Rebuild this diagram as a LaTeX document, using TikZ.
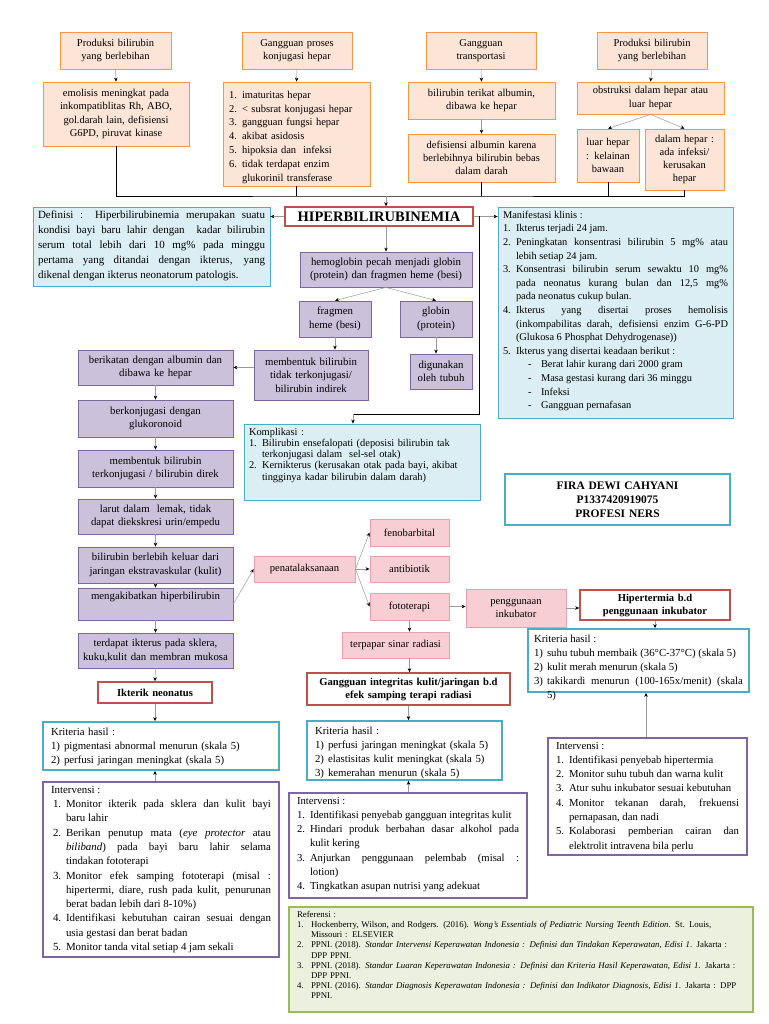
\documentclass[tikz,border=0pt]{standalone}
\usepackage{fontspec}
\setmainfont{Liberation Serif}
\usepackage{enumitem}
\usetikzlibrary{arrows.meta}
\definecolor{orF}{HTML}{FCE4D6}
\definecolor{orD}{HTML}{F79646}
\definecolor{blF}{HTML}{DBEEF4}
\definecolor{blD}{HTML}{4BACC6}
\definecolor{puF}{HTML}{CCC1DA}
\definecolor{puD}{HTML}{8064A2}
\definecolor{piF}{HTML}{F6CED3}
\definecolor{piD}{HTML}{E6A1AC}
\definecolor{rdD}{HTML}{C0504D}
\definecolor{grF}{HTML}{EBF1DE}
\definecolor{grD}{HTML}{9BBB59}
\setlist[enumerate]{nosep,leftmargin=13pt,labelwidth=9pt,labelsep=4pt,align=left,label=\arabic*.}
\setlist[itemize]{nosep,leftmargin=25pt,labelwidth=8pt,labelsep=5pt,align=left,label=-}
\newcommand\bxpad{4}
\newcommand\bx[7]{%
  \pgfmathsetmacro\bxw{#5-#3}%
  \pgfmathsetmacro\bxh{#6-#4}%
  \pgfmathsetmacro\bxcx{(#3+#5)/2}%
  \pgfmathsetmacro\bxcy{(#4+#6)/2}%
  \pgfmathsetmacro\bxtw{#5-#3-2*\bxpad}%
  \node[inner ysep=2pt, #2, minimum width=\bxw pt, minimum height=\bxh pt, text width=\bxtw pt] (#1) at (\bxcx,\bxcy) {#7};}
\newcommand\bxt[7]{%
  \bx{#1}{#2}{#3}{#4}{#5}{#6}{}%
  \pgfmathsetmacro\bxtw{#5-#3-2*\bxpad}%
  \node[anchor=north west, inner ysep=4pt, #2, draw=none, fill=none, text width=\bxtw pt] at (#1.north west) {#7};}
\tikzset{
  base/.style={rectangle, inner xsep=\bxpad pt, align=center, font=\fontsize{10.8}{13.5}\selectfont},
  orbox/.style={base, fill=orF, draw=orD, line width=0.8pt, font=\fontsize{10.5}{13.3}\selectfont},
  blbox/.style={base, fill=blF, draw=blD, line width=0.8pt},
  pubox/.style={base, fill=puF, draw=puD, line width=0.8pt},
  pibox/.style={base, fill=piF, draw=piD, line width=0.8pt, font=\fontsize{10.6}{13}\selectfont},
  redbold/.style={base, fill=white, draw=rdD, line width=1.6pt, font=\bfseries\fontsize{10.6}{13}\selectfont},
  kbox/.style={base, inner ysep=6pt, fill=white, draw=blD, line width=1.8pt, align=left, font=\fontsize{10.8}{14}\selectfont},
  ibox/.style={base, fill=white, draw=puD, line width=1.8pt, align=justify, font=\fontsize{10.9}{14.3}\selectfont},
  firabox/.style={base, fill=white, draw=blD, line width=2.6pt, font=\bfseries\fontsize{11.5}{14}\selectfont},
  refbox/.style={base, fill=grF, draw=grD, line width=1.8pt, align=left, font=\fontsize{8.8}{10.2}\selectfont},
  arr/.style={draw=black!40, line width=0.5pt, -{Stealth[length=4pt,width=3.5pt,color=black]}},
  conn/.style={draw=black, line width=0.8pt}
}
\begin{document}
\begin{tikzpicture}[x=1pt,y=-1pt]
\useasboundingbox (0,0) rectangle (768,1024);
\fill[white] (0,0) rectangle (768,1024);

% ---------- top row ----------
\bx{a1}{orbox}{60}{32}{171}{69}{Produksi bilirubin\\yang berlebihan}
\bx{a2}{orbox}{43}{82}{189}{146}{emolisis meningkat pada\\inkompatiblitas Rh, ABO,\\gol.darah lain, defisiensi\\G6PD, piruvat kinase}
\bx{b1}{orbox}{242}{32}{352}{69}{Gangguan proses\\konjugasi hepar}
\renewcommand\bxpad{6}
\bx{b2}{orbox, align=left, font=\fontsize{10.5}{13.8}\selectfont}{223}{82}{370}{186}{%
\begin{enumerate}
\item imaturitas hepar
\item < subsrat konjugasi hepar
\item gangguan fungsi hepar
\item akibat asidosis
\item hipoksia dan\ \ infeksi
\item tidak terdapat enzim\newline glukorinil transferase
\end{enumerate}}
\renewcommand\bxpad{4}
\bx{c1}{orbox}{426}{32}{536}{69}{Gangguan\\transportasi}
\bx{c2}{orbox}{408}{82}{555}{119}{bilirubin terikat albumin,\\dibawa ke hepar}
\bx{c3}{orbox}{408}{134}{555}{182}{defisiensi albumin karena\\berlebihnya bilirubin bebas\\dalam darah}
\bx{d1}{orbox}{597}{32}{707}{69}{Produksi bilirubin\\yang berlebihan}
\bx{d2}{orbox}{577}{82}{724}{114}{obstruksi dalam hepar atau\\luar hepar}
\renewcommand\bxpad{2}
\bx{d3}{orbox}{577}{129}{639}{182}{luar hepar\\: kelainan\\bawaan}
\bx{d4}{orbox}{645}{129}{724}{190}{dalam hepar :\\ada infeksi/\\kerusakan\\hepar}
\renewcommand\bxpad{4}

\draw[arr] (a1.south) -- (a2.north);
\draw[arr] (b1.south) -- (b2.north);
\draw[arr] (c1.south) -- (c2.north);
\draw[arr] (c2.south) -- (c3.north);
\draw[arr] (d1.south) -- (d2.north);
\draw[arr] (d2.south) -- (d3.north);
\draw[arr] (d2.south) -- (d4.north);

\coordinate (jn) at (386,196);
\draw[conn] (a2.south) |- (jn) -| (d4.south);
\draw[conn] (b2.south) -- (b2.south |- jn);
\draw[conn] (c3.south) -- (c3.south |- jn);
\draw[conn] (d3.south) -- (d3.south |- jn);

% ---------- centre ----------
\bx{hip}{base, fill=white, draw=rdD, line width=1.6pt, font=\bfseries\fontsize{14.5}{16}\selectfont}{285}{207}{473}{226}{HIPERBILIRUBINEMIA}
\draw[arr] (jn) -- (jn |- hip.north);

\renewcommand\bxpad{5}
\bxt{def}{blbox, align=justify, font=\fontsize{11}{15}\selectfont}{33}{207}{270}{286}{Definisi : Hiperbilirubinemia merupakan suatu\linebreak kondisi bayi baru lahir dengan\ \ kadar bilirubin\linebreak serum total lebih dari 10 mg\% pada minggu\linebreak pertama yang ditandai dengan ikterus, yang\linebreak dikenal dengan ikterus neonatorum patologis.}
\bxt{man}{blbox, align=justify, font=\fontsize{10.4}{13.6}\selectfont}{498}{207}{733}{418}{Manifestasi klinis :
\begin{enumerate}
\item Ikterus terjadi 24 jam.
\item Peningkatan konsentrasi bilirubin 5 mg\% atau\linebreak lebih setiap 24 jam.
\item Konsentrasi bilirubin serum sewaktu 10 mg\%\linebreak pada neonatus kurang bulan dan 12,5 mg\%\linebreak pada neonatus cukup bulan.
\item Ikterus yang disertai proses hemolisis\linebreak (inkompabilitas darah, defisiensi enzim G-6-PD\linebreak (Glukosa 6 Phosphat Dehydrogenase))
\item Ikterus yang disertai keadaan berikut :
\begin{itemize}
\item Berat lahir kurang dari 2000 gram
\item Masa gestasi kurang dari 36 minggu
\item Infeksi
\item Gangguan pernafasan
\end{itemize}
\end{enumerate}}
\bxt{kom}{blbox, align=left, font=\fontsize{10.4}{11.2}\selectfont}{244}{424}{480}{500}{Komplikasi :
\begin{enumerate}
\item Bilirubin ensefalopati (deposisi bilirubin tak\newline terkonjugasi dalam\ \ sel-sel otak)
\item Kernikterus (kerusakan otak pada bayi, akibat\newline tingginya kadar bilirubin dalam darah)
\end{enumerate}}
\renewcommand\bxpad{4}

\draw[arr] (hip.west) -- (hip.west -| def.east);
\draw[arr] (hip.east) -- (hip.east -| man.west);
\coordinate (k1) at (479,216.5);
\coordinate (k2) at (479,414);
\coordinate (k3) at (353,414);
\draw[conn] (k1) -- (k2) -- (k3);
\draw[arr] (k3) -- (k3 |- kom.north);

\bx{hb}{pubox}{300}{252}{472}{287}{hemoglobin pecah menjadi globin\\(protein) dan fragmen heme (besi)}
\bx{fh}{pubox}{299}{301}{371}{337}{fragmen\\heme (besi)}
\bx{gl}{pubox}{400}{301}{472}{337}{globin\\(protein)}
\bx{mb}{pubox}{254}{350}{368}{400}{membentuk bilirubin\\tidak terkonjugasi/\\bilirubin indirek}
\bx{dg}{pubox}{410}{354}{472}{389}{digunakan\\oleh tubuh}

\draw[arr] (hb.north |- hip.south) -- (hb.north);
\draw[arr] (hb.south) -- (fh.north);
\draw[arr] (hb.south) -- (gl.north);
\draw[arr] (fh.south) -- (fh.south |- mb.north);
\draw[arr] (gl.south) -- (gl.south |- dg.north);

% ---------- left column ----------
\bx{p1}{pubox}{78}{350}{233}{385}{berikatan dengan albumin dan\\dibawa ke hepar}
\bx{p2}{pubox}{78}{400}{233}{437}{berkonjugasi dengan\\glukoronoid}
\bx{p3}{pubox}{78}{450}{233}{487}{membentuk bilirubin\\terkonjugasi / bilirubin direk}
\bx{p4}{pubox}{78}{499}{233}{534}{larut dalam\ \ lemak, tidak\\dapat diekskresi urin/empedu}
\bx{p5}{pubox}{78}{547}{233}{583}{bilirubin berlebih keluar dari\\jaringan ekstravaskular (kulit)}
\bx{p6}{pubox}{78}{588}{233}{620}{mengakibatkan hiperbilirubin\\[-2pt]\strut}
\bx{p7}{pubox}{78}{633}{233}{668}{terdapat ikterus pada sklera,\\kuku,kulit dan membran mukosa}

\draw[arr] (mb.west |- p1.east) -- (p1.east);
\draw[arr] (p1.south) -- (p2.north);
\draw[arr] (p2.south) -- (p3.north);
\draw[arr] (p3.south) -- (p4.north);
\draw[arr] (p4.south) -- (p5.north);
\draw[arr] (p5.south) -- (p6.north);
\draw[arr] (p6.south) -- (p7.north);

% ---------- penatalaksanaan ----------
\renewcommand\bxpad{2}
\bx{pen}{pibox}{254}{556}{355}{582}{penatalaksanaan}
\bx{fen}{pibox}{370}{519}{449}{546}{fenobarbital}
\bx{ant}{pibox}{370}{556}{449}{582}{antibiotik}
\bx{fot}{pibox}{370}{593}{449}{620}{fototerapi}
\bx{ter}{pibox}{342}{632}{449}{658}{terpapar sinar radiasi}
\bx{pin}{pibox}{466}{589}{566}{627}{penggunaan\\inkubator}
\renewcommand\bxpad{4}

\draw[arr] (p6.east) -- (pen.west);
\draw[arr] (pen.east) -- (fen.west);
\draw[arr] (pen.east) -- (ant.west);
\draw[arr] (pen.east) -- (fot.west);
\draw[arr] (fot.east) -- (fot.east -| pin.west);
\draw[arr] (fot.south) -- (fot.south |- ter.north);

% ---------- diagnoses ----------
\bx{gi}{redbold}{307}{673}{510}{705}{Gangguan integritas kulit/jaringan b.d\\efek samping terapi radiasi}
\draw[arr] (fot.south |- ter.south) -- (fot.south |- gi.north);

\bx{ik}{redbold}{98}{682}{212}{703}{Ikterik neonatus}
\draw[arr] (p7.south) -- (ik.north);

\bx{fira}{firabox}{505}{474}{730}{525}{FIRA DEWI CAHYANI\\P1337420919075\\PROFESI NERS}
\bx{hip2}{redbold}{580}{590}{730}{620}{Hipertermia b.d\\penggunaan inkubator}
\draw[arr] (pin.east) -- (pin.east -| hip2.west);

% ---------- kriteria / intervensi ----------
\renewcommand\bxpad{8}
\bxt{kl}{kbox}{43}{722}{279}{770}{Kriteria hasil :
\begin{enumerate}[label=\arabic*)]
\item pigmentasi abnormal menurun (skala 5)
\item perfusi jaringan meningkat (skala 5)
\end{enumerate}}
\bxt{il}{ibox}{43}{782}{279}{957}{Intervensi :
\begin{enumerate}[leftmargin=15pt,labelindent=2pt,labelwidth=9pt]
\item Monitor ikterik pada sklera dan kulit bayi\linebreak baru lahir
\item Berikan penutup mata (\textit{eye protector} atau\linebreak \textit{biliband}) pada bayi baru lahir selama\linebreak tindakan fototerapi
\item Monitor efek samping fototerapi (misal :\linebreak hipertermi, diare, rush pada kulit, penurunan\linebreak berat badan lebih dari 8-10\%)
\item Identifikasi kebutuhan cairan sesuai dengan\linebreak usia gestasi dan berat badan
\item Monitor tanda vital setiap 4 jam sekali
\end{enumerate}}
\bxt{kc}{kbox}{307}{721}{502}{780}{Kriteria hasil :
\begin{enumerate}[label=\arabic*)]
\item perfusi jaringan meningkat (skala 5)
\item elastisitas kulit meningkat (skala 5)
\item kemerahan menurun (skala 5)
\end{enumerate}}
\bxt{ic}{ibox, font=\fontsize{10.7}{14.3}\selectfont}{289}{793}{527}{898}{Intervensi :
\begin{enumerate}
\item Identifikasi penyebab gangguan integritas kulit
\item Hindari produk berbahan dasar alkohol pada\linebreak kulit kering
\item Anjurkan penggunaan pelembab (misal :\linebreak lotion)
\item Tingkatkan asupan nutrisi yang adekuat
\end{enumerate}}
\renewcommand\bxpad{6}
\bxt{kr}{kbox, align=justify}{528}{629}{749}{692}{Kriteria hasil :
\begin{enumerate}[label=\arabic*)]
\item suhu tubuh membaik (36°C-37°C) (skala 5)
\item kulit merah menurun (skala 5)
\item takikardi menurun (100-165x/menit) (skala\linebreak 5)
\end{enumerate}}
\renewcommand\bxpad{8}
\bxt{ir}{ibox, font=\fontsize{10.7}{14.3}\selectfont}{548}{738}{747}{855}{Intervensi :
\begin{enumerate}
\item Identifikasi penyebab hipertermia
\item Monitor suhu tubuh dan warna kulit
\item Atur suhu inkubator sesuai kebutuhan
\item Monitor tekanan darah, frekuensi\linebreak pernapasan, dan nadi
\item Kolaborasi pemberian cairan dan\linebreak elektrolit intravena bila perlu
\end{enumerate}}
\bxt{ref}{refbox}{289}{907}{753}{1012}{Referensi :
\begin{enumerate}[leftmargin=14pt,labelwidth=9pt,labelsep=5pt]
\item Hockenberry, Wilson, and Rodgers. (2016). \textit{Wong’s Essentials of Pediatric Nursing Teenth Edition}. St. Louis,\newline Missouri : ELSEVIER
\item PPNI. (2018). \textit{Standar Intervensi Keperawatan Indonesia : Definisi dan Tindakan Keperawatan, Edisi 1}. Jakarta :\newline DPP PPNI.
\item PPNI. (2018). \textit{Standar Luaran Keperawatan Indonesia : Definisi dan Kriteria Hasil Keperawatan, Edisi 1}. Jakarta :\newline DPP PPNI.
\item PPNI. (2016). \textit{Standar Diagnosis Keperawatan Indonesia : Definisi dan Indikator Diagnosis, Edisi 1}. Jakarta : DPP\newline PPNI.
\end{enumerate}}
\renewcommand\bxpad{4}

\draw[arr] (ik.south) -- (ik.south |- kl.north);
\draw[arr] (ik.south |- il.north) -- (ik.south |- kl.south);
\draw[arr] (gi.south) -- (gi.south |- kc.north);
\draw[arr] (gi.south |- ic.north) -- (gi.south |- kc.south);
\draw[arr] (hip2.south) -- (hip2.south |- kr.north);
\coordinate (q) at (646,0);
\draw[arr] (q |- ir.north) -- (q |- kr.south);
\end{tikzpicture}
\end{document}
